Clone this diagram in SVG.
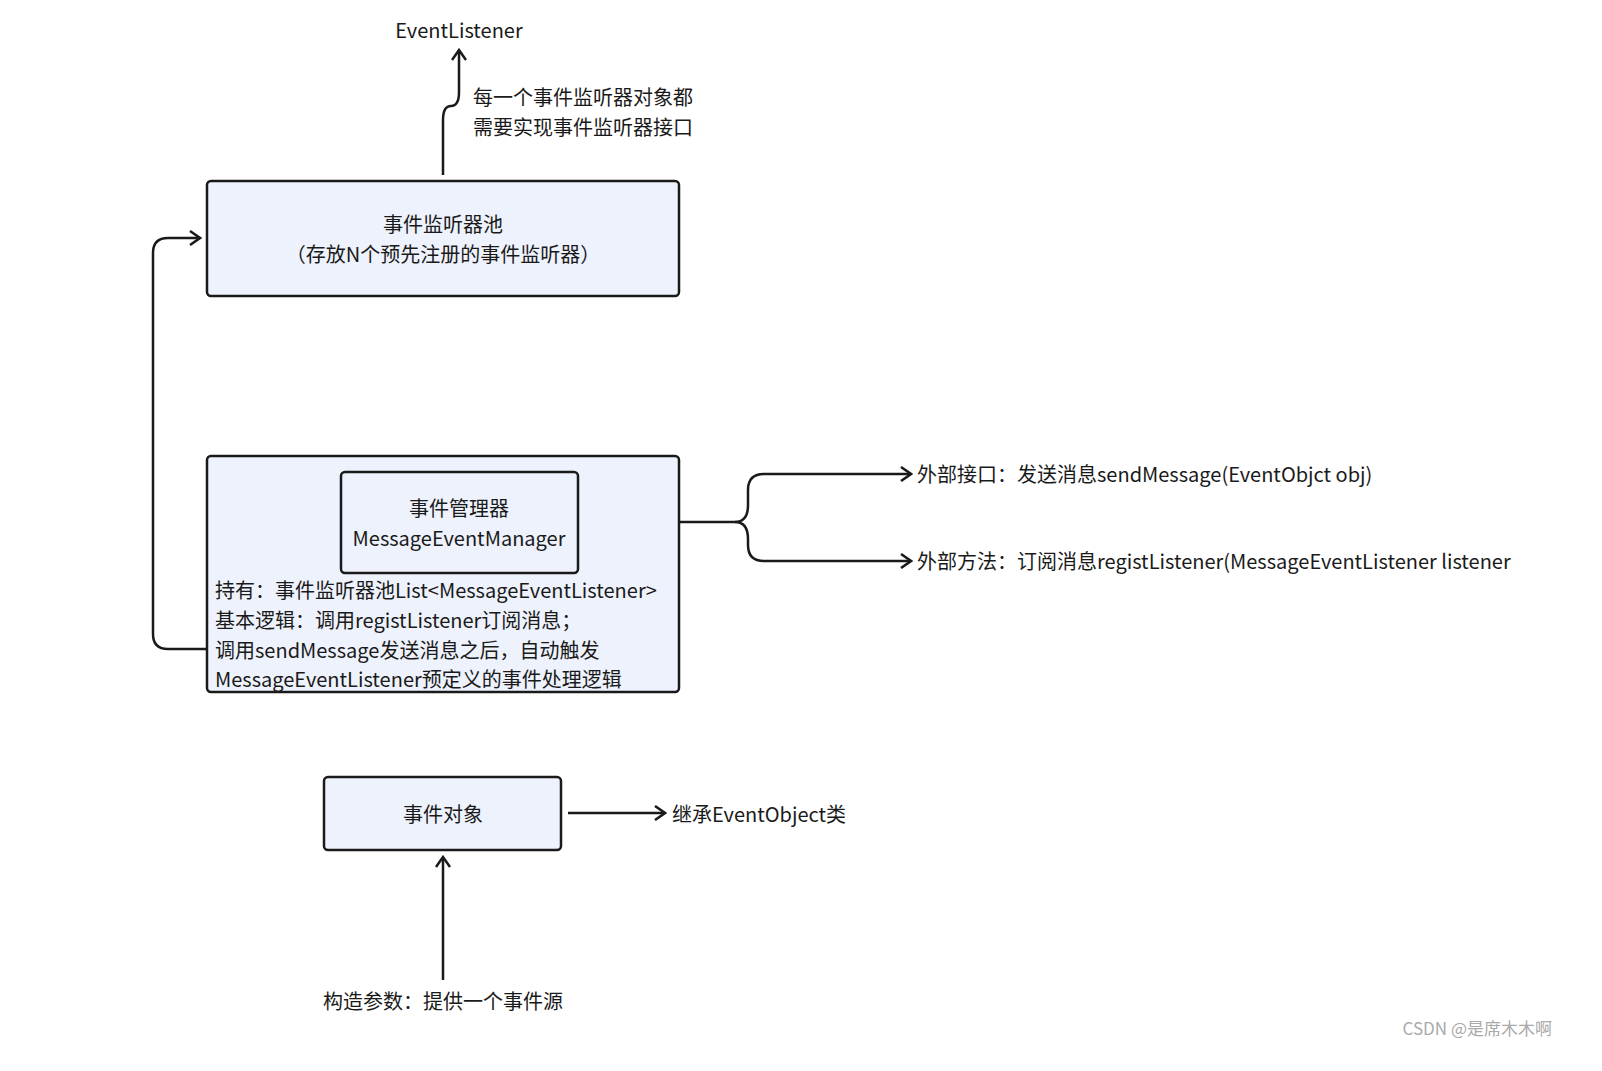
<svg xmlns="http://www.w3.org/2000/svg" width="1602" height="1071" viewBox="0 0 1602 1071">
<defs>
<style>
text{font-family:"Noto Sans CJK SC","Noto Sans",sans-serif;font-size:20px;fill:#1a1a1a}
.box{fill:#eef2fc;stroke:#1a1a1a;stroke-width:2.5}
.c{text-anchor:middle}
.ln{fill:none;stroke:#1a1a1a;stroke-width:2.5}
</style>
<marker id="a" markerWidth="14" markerHeight="16" refX="12" refY="8" orient="auto" markerUnits="userSpaceOnUse">
<path d="M2,1 L12,8 L2,15" fill="none" stroke="#1a1a1a" stroke-width="2.5"/>
</marker>
</defs>
<rect width="1602" height="1071" fill="#fff"/>
<g id="connectors">
<path class="ln" d="M443,175 V120 Q443,106 451,106 Q459,106 459,92 V50" marker-end="url(#a)"/>
<path class="ln" d="M207,649 H168 Q153,649 153,634 V253 Q153,238 168,238 H200" marker-end="url(#a)"/>
<path class="ln" d="M584,522 H735 Q748,522 748,505 V490 Q748,474 764,474 H911" marker-end="url(#a)"/>
<path class="ln" d="M735,522 Q748,522 748,539 V545 Q748,561 764,561 H911" marker-end="url(#a)"/>
<path class="ln" d="M568,813 H665" marker-end="url(#a)"/>
<path class="ln" d="M443,980 V857" marker-end="url(#a)"/>
</g>
<g id="eventlistener">
<text class="c" x="459" y="38">EventListener</text>
<text x="473" y="105">每一个事件监听器对象都</text>
<text x="473" y="135">需要实现事件监听器接口</text>
</g>
<g id="pool">
<rect class="box" x="207" y="181" width="472" height="115" rx="4"/>
<text class="c" x="443" y="232">事件监听器池</text>
<text class="c" x="443" y="262">（存放N个预先注册的事件监听器）</text>
</g>
<g id="manager">
<rect class="box" x="207" y="456" width="472" height="236" rx="4"/>
<rect class="box" x="341" y="472" width="237" height="101" rx="4"/>
<text class="c" x="459" y="516">事件管理器</text>
<text class="c" x="459" y="546">MessageEventManager</text>
<text x="215" y="598">持有：事件监听器池List&lt;MessageEventListener&gt;</text>
<text x="215" y="628">基本逻辑：调用registListener订阅消息；</text>
<text x="215" y="658">调用sendMessage发送消息之后，自动触发</text>
<text x="215" y="687">MessageEventListener预定义的事件处理逻辑</text>
</g>
<g id="ext">
<text x="917" y="482">外部接口：发送消息sendMessage(EventObjct obj)</text>
<text x="917" y="569">外部方法：订阅消息registListener(MessageEventListener listener</text>
</g>
<g id="event">
<rect class="box" x="324" y="777" width="237" height="73" rx="4"/>
<text class="c" x="443" y="822">事件对象</text>
<text x="672" y="822">继承EventObject类</text>
<text class="c" x="443" y="1009">构造参数：提供一个事件源</text>
</g>
<text x="1552" y="1035" text-anchor="end" style="fill:#aaa;font-size:17px">CSDN @是席木木啊</text>
</svg>
